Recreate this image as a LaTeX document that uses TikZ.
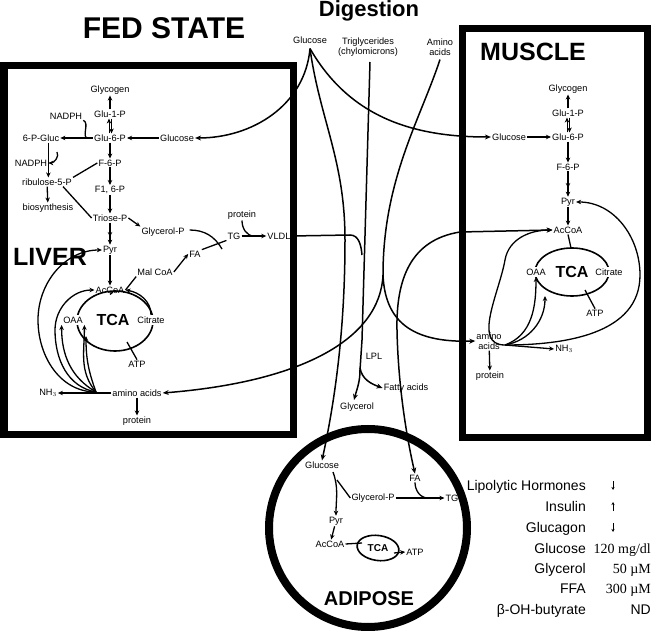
\documentclass[tikz,border=0pt]{standalone}
\usepackage{fontspec}
\setmainfont{Liberation Sans}
\newfontfamily\serifnum{Liberation Serif}
\usetikzlibrary{arrows.meta,shapes.geometric}
\begin{document}
\begin{tikzpicture}[x=1pt,y=-1pt,
  lab/.style={font=\fontsize{9.2}{10}\selectfont,inner sep=1pt,align=center},
  wl/.style={fill=white,inner sep=1.5pt},
  ttl/.style={font=\bfseries\fontsize{20}{20}\selectfont,inner sep=0pt},
  leg/.style={font=\fontsize{14}{15}\selectfont,inner sep=0pt,anchor=base east},
  ar/.style={line width=1.3pt,-{Stealth[length=5pt,width=4.5pt]}},
  ln/.style={line width=1.3pt},
  big/.style={line width=1.5pt,-{Stealth[length=6pt,width=5pt]}},
  box/.style={line width=7pt}]
\useasboundingbox (0,0) rectangle (651,631);
% titles
\node[ttl,font=\bfseries\fontsize{30}{30}\selectfont] (fed) at (164,28) {FED STATE};
\node[ttl,font=\bfseries\fontsize{22}{22}\selectfont] (dig) at (369,11) {Digestion};
\node[ttl,font=\bfseries\fontsize{25}{25}\selectfont] (mus) at (533,52) {MUSCLE};
\node[ttl,font=\bfseries\fontsize{25}{25}\selectfont] (liv) at (50,257) {LIVER};
\node[ttl,font=\bfseries\fontsize{20}{20}\selectfont] (adi) at (369,599) {ADIPOSE};
% boxes
\draw[box] (4,65.5) rectangle (293.5,434);
\draw[box] (462,29) rectangle (647.5,437.5);
\draw[line width=8pt] (368,528) circle (99);
% digestion sources
\node[lab] (dglu) at (310,40) {Glucose};
\node[lab] (dtg) at (368,47) {Triglycerides\\(chylomicrons)};
\node[lab] (daa) at (440,47) {Amino\\acids};
% ---------- LIVER ----------
\node[lab] (lgly) at (110,90) {Glycogen};
\node[lab] (lg1p) at (110,114) {Glu-1-P};
\node[lab] (lnad1) at (66,116) {NADPH};
\node[lab] (lg6p) at (110,138) {Glu-6-P};
\node[lab] (lpg) at (41,138) {6-P-Gluc};
\node[lab] (lglc) at (177,138) {Glucose};
\node[lab] (lnad2) at (31,163) {NADPH};
\node[lab] (lf6p) at (110,163) {F-6-P};
\node[lab] (lrib) at (47,182) {ribulose-5-P};
\node[lab] (lf16) at (110,190) {F1, 6-P};
\node[lab] (lbio) at (48,208) {biosynthesis};
\node[lab] (ltri) at (110,218) {Triose-P};
\node[lab] (lglp) at (163,232) {Glycerol-P};
\node[lab] (lprot1) at (242,215) {protein};
\node[lab] (ltg) at (234,236) {TG};
\node[lab] (lvldl) at (279,236) {VLDL};
\node[lab] (lpyr) at (110,250) {Pyr};
\node[lab] (lfa) at (195,254) {FA};
\node[lab] (lmal) at (155,272) {Mal CoA};
\node[lab] (lac) at (110,290) {AcCoA};
\node[draw,ellipse,line width=1.6pt,minimum width=76pt,minimum height=60pt] (lcyc) at (115,321) {};
\node[lab,wl] (loaa) at (73,320) {OAA};
\node[ttl,font=\bfseries\fontsize{16}{16}\selectfont] (ltca) at (113,320) {TCA};
\node[lab,wl] (lcit) at (151,320) {Citrate};
\node[lab] (latp) at (137,364) {ATP};
\node[lab] (lnh3) at (48,393) {NH$_3$};
\node[lab] (laa) at (137,393) {amino acids};
\node[lab] (lprot2) at (137,421) {protein};
\draw[ar] (lg1p) -- (lgly);
\draw[ar,line width=0.8pt] ([xshift=-1pt]lg6p.north) -- ([xshift=-1pt]lg1p.south);
\draw[ar,line width=0.8pt] ([xshift=1.5pt]lg1p.south) -- ([xshift=1.5pt]lg6p.north);
\draw[ar] (lglc) -- (lg6p);
\draw[ar] (lg6p) -- (lpg);
\draw[ln] (lnad1.south east) to[out=-20,in=180] (88,138);
\draw[ar] (lpg.south east) ++(-12,0) coordinate (lpgs) -- (lrib.north -| lpgs);
\draw[ar] (57,152) to[out=-60,in=0] (lnad2.east);
\draw[ln] (lf6p.west) -- (lrib.north east);
\draw[ar] (lrib) -- (lbio);
\draw[ln] (lrib.south east) ++(-10,0) -- (ltri.west);
\draw[ar] (lg6p) -- (lf6p);
\draw[ar] (lf6p) -- (lf16);
\draw[ar] (lf16) -- (ltri);
\draw[ar] (ltri) -- (lpyr);
\draw[-{Stealth[length=5pt,width=4.5pt]},line width=1.3pt] (110,225) -- (110,237);
\draw[ar] (lpyr) -- (lac);
\draw[ar] (ltri.east) -- (lglp.north west);
\draw[ar] (lmal.east) -- (lfa.west);
\draw[ln] (lac.east) -- (lmal.south west);
\draw[ln] (lfa.north east) -- (ltg.south west);
\draw[ln] (lglp.east) ++(4,-2) to[out=0,in=120] (222,249);
\draw[ar] (ltg) -- (lvldl);
\draw[ln] (lprot1.south) to[out=-90,in=180] (254,236);
\draw[ln] (lac.south) -- (113,292);
\draw[ar] (lcit.north) to[out=90,in=-10] (lac.east);
\draw[ln] (latp.north) -- (127,342);
\draw[ar] (laa) -- (lprot2);
\draw[ar] (laa.west) -- (lnh3.east);
\coordinate (lfan) at (96,392);
\draw[ar] (lfan) to[out=180,in=-90] (38,320) to[out=90,in=180] (lpyr.west);
\draw[ar] (lfan) to[out=170,in=-90] (55,330) to[out=90,in=180] (lac.west);
\draw[ar] (lfan) to[out=150,in=-90] (loaa.south west);
\draw[ar] (lfan) to[out=130,in=-90] (loaa.south east);
\draw[ar] (lfan) to[out=110,in=-90] (86,336);
% ---------- MUSCLE ----------
\node[lab] (mgly) at (568,89) {Glycogen};
\node[lab] (mg1p) at (568,113) {Glu-1-P};
\node[lab] (mglc) at (509,137) {Glucose};
\node[lab] (mg6p) at (568,137) {Glu-6-P};
\node[lab] (mf6p) at (568,167) {F-6-P};
\node[lab] (mpyr) at (568,202) {Pyr};
\node[lab] (mac) at (568,230) {AcCoA};
\node[draw,ellipse,line width=1.6pt,minimum width=74pt,minimum height=48pt] (mcyc) at (572,272) {};
\node[lab,wl] (moaa) at (536,272) {OAA};
\node[ttl,font=\bfseries\fontsize{16}{16}\selectfont] (mtca) at (572,272) {TCA};
\node[lab,wl] (mcit) at (609,272) {Citrate};
\node[lab] (matp) at (595,313) {ATP};
\node[lab] (maa) at (489,341) {amino\\acids};
\node[lab] (mnh3) at (564,349) {NH$_3$};
\node[lab] (mprot) at (490,376) {protein};
\draw[ar] (mg1p) -- (mgly);
\draw[ar,line width=0.8pt] ([xshift=-1pt]mg6p.north) -- ([xshift=-1pt]mg1p.south);
\draw[ar,line width=0.8pt] ([xshift=1.5pt]mg1p.south) -- ([xshift=1.5pt]mg6p.north);
\draw[ar] (mglc) -- (mg6p);
\draw[ar] (mg6p) -- (mf6p);
\draw[ar] (mf6p) -- (mpyr);
\draw[-{Stealth[length=5pt,width=4.5pt]},line width=1.3pt] (568,174) -- (568,188);
\draw[ar] (mpyr) -- (mac);
\draw[ln] (mac.south) -- (571,248);
\draw[ln] (matp.north) -- (585,290);
\draw[ar] (maa) -- (mprot);
\coordinate (mfan) at (505,345);
\draw[ar] (mfan) -- (mnh3.west);
\draw[ar] (mfan) to[out=180,in=-100] (505,260) to[out=80,in=180] (mac.west);
\draw[ar] (mfan) to[out=20,in=-90] (moaa.south);
\draw[ar] (mfan) to[out=10,in=-90] (545,296);
\draw[ar] (mfan) to[out=0,in=-90] (640,275) to[out=90,in=0] (mpyr.east);
% ---------- ADIPOSE ----------
\node[lab] (aglc) at (322,465) {Glucose};
\node[lab] (afa) at (415,478) {FA};
\node[lab] (aglp) at (373,498) {Glycerol-P};
\node[lab] (atg) at (452,498) {TG};
\node[lab] (apyr) at (336,521) {Pyr};
\node[lab] (aac) at (330,544) {AcCoA};
\node[draw,ellipse,line width=1.6pt,minimum width=42pt,minimum height=25pt,rotate=-8] (acyc) at (378,548) {};
\node[font=\bfseries\fontsize{10}{10}\selectfont,inner sep=0pt] (atca) at (378,548) {TCA};
\node[lab] (aatp) at (415,552) {ATP};
\draw[ar] (333,472) to[out=-70,in=90] (apyr.north);
\draw[ln] (aglp.west) -- (337,480);
\draw[ar] (aglp.east) -- (atg.west);
\draw[ln] (afa.south) to[out=-90,in=180] (428,498);
\draw[ar] (apyr) -- (aac);
\draw[ln] (aac.east) -- (362,543);
\draw[ar] (394,553) -- (aatp.west);
% ---------- CENTRAL FLOWS ----------
\draw[big] (dglu.south) ++(0,4) coordinate (gs) to[out=-95,in=0] (lglc.east);
\draw[big] (gs) to[out=-60,in=180] (mglc.west);
\draw[big] (gs) .. controls (320,120) and (345,160) .. (345,240)
   .. controls (345,330) and (335,400) .. (aglc.north);
\draw[line width=1.5pt] (370,62) coordinate (ts) -- (362,340) coordinate (lpl);
\draw[line width=1.5pt] (lvldl.east) -- (350,235) to[out=0,in=95] (362,255);
\draw[big] (lpl) -- (360,370) to[out=-90,in=75] (354,400);
\node[lab] (glyc) at (357,407) {Glycerol};
\node[lab] (fatty) at (406,388) {Fatty acids};
\node[lab] (lplt) at (374,356) {LPL};
\draw[big] (360,368) to[out=-80,in=160] (fatty.west);
\draw[line width=1.5pt] (daa.south) ++(0,3) coordinate (as) .. controls (420,120) and (383,180) .. (383,275) coordinate (asp);
\draw[big] (asp) .. controls (385,320) and (410,343) .. (maa.west);
\draw[big] (asp) .. controls (380,340) and (300,382) .. (laa.east);
\draw[big,{Stealth[length=6pt,width=5pt]}-{Stealth[length=6pt,width=5pt]}] (mac.west) -- (460,232) .. controls (410,240) and (396,280) .. (397,330) .. controls (398,380) and (405,430) .. (afa.north);
% ---------- LEGEND ----------
\node[leg] (l1) at (586,490) {Lipolytic Hormones};
\node[leg] (l2) at (586,511) {Insulin};
\node[leg] (l3) at (586,532) {Glucagon};
\node[leg] (l4) at (586,553) {Glucose};
\node[leg] (l5) at (586,573) {Glycerol};
\node[leg] (l6) at (586,593) {FFA};
\node[leg] (l7) at (586,614) {β-OH-butyrate};
\node[leg,font=\serifnum\fontsize{14}{15}\selectfont] (v4) at (651,553) {120 mg/dl};
\node[leg,font=\serifnum\fontsize{14}{15}\selectfont] (v5) at (651,573) {50 µM};
\node[leg,font=\serifnum\fontsize{14}{15}\selectfont] (v6) at (651,593) {300 µM};
\node[leg] (v7) at (651,614) {ND};
\coordinate (a1t) at (613,481); \coordinate (a1b) at (613,490);
\coordinate (a2t) at (613,502); \coordinate (a2b) at (613,511);
\coordinate (a3t) at (613,523); \coordinate (a3b) at (613,532);
\draw[line width=0.8pt,-{Stealth[length=3pt,width=3pt]}] (a1t) -- (a1b);
\draw[line width=0.8pt,-{Stealth[length=3pt,width=3pt]}] (a2b) -- (a2t);
\draw[line width=0.8pt,-{Stealth[length=3pt,width=3pt]}] (a3t) -- (a3b);
\end{tikzpicture}
\end{document}
